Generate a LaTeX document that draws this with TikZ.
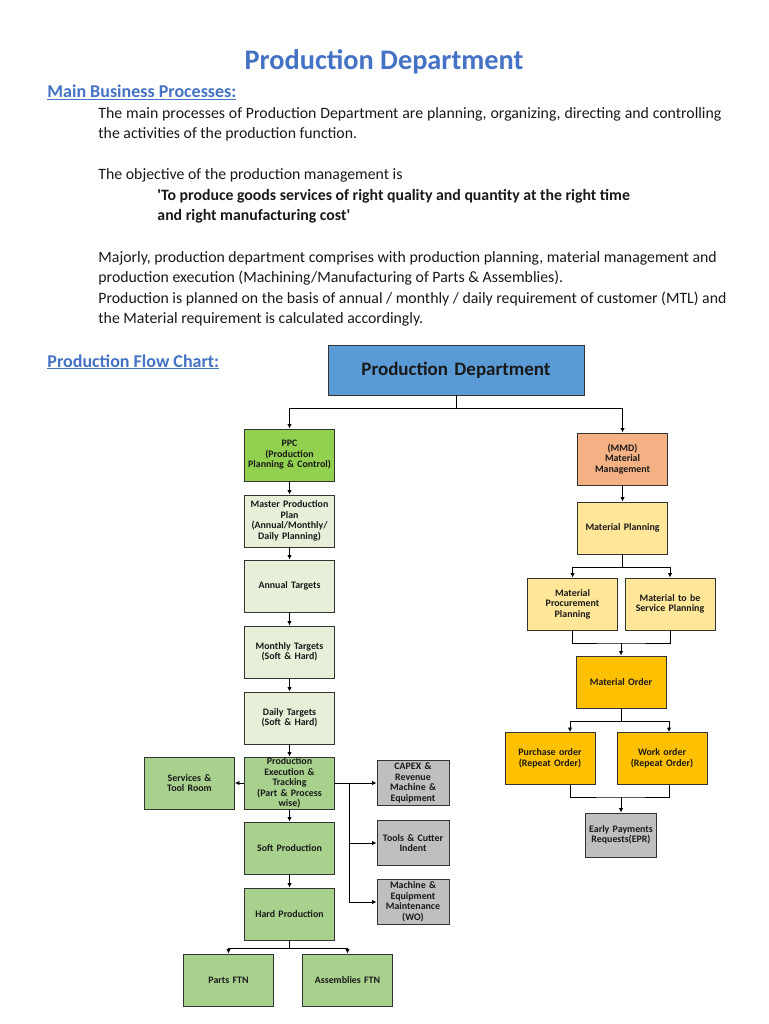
\documentclass[tikz,border=0pt]{standalone}
\usepackage{fontspec}
\setmainfont{Carlito}[Ligatures=TeXOff]
\usetikzlibrary{arrows.meta}
\usetikzlibrary{calc}

\definecolor{hdblue}{HTML}{4472C4}
\definecolor{topblue}{HTML}{5B9BD5}
\definecolor{ppcgreen}{HTML}{92D050}
\definecolor{palegreen}{HTML}{E6F0D9}
\definecolor{midgreen}{HTML}{A9D18E}
\definecolor{mmdorange}{HTML}{F4B183}
\definecolor{paleyellow}{HTML}{FFE699}
\definecolor{gold}{HTML}{FFC000}
\definecolor{boxgray}{HTML}{BFBFBF}

\begin{document}
\begin{tikzpicture}[x=1pt, y=-1pt,
  every path/.style={line width=0.9pt},
  box/.style={draw=black!80, align=center, inner sep=0.5pt, text width=88pt,
    minimum width=90pt, minimum height=52pt, text=black!90,
    font=\bfseries\fontsize{9.9}{10.5}\selectfont},
  graybox/.style={box, fill=boxgray, text width=70pt, minimum width=72pt, minimum height=45pt},
  txt/.style={anchor=base west, inner sep=0pt, text=black!90, font=\fontsize{15.8}{18}\selectfont},
  head/.style={anchor=base west, inner sep=0pt, text=hdblue, font=\bfseries\fontsize{18}{21}\selectfont},
  arr/.style={-{Latex[length=4.5pt,width=4.5pt]}}]
\useasboundingbox[fill=white] (0,0) rectangle (768,1024);

% page text
\node[anchor=base, inner sep=0pt, text=hdblue, font=\bfseries\fontsize{28.3}{32}\selectfont] (title) at (384,70) {Production Department};
\node[head] (mbp) at (47,98) {\underline{Main Business Processes:}};
\node[txt] (l1) at (98,119) {\makebox[623pt][s]{The main processes of Production Department are planning, organizing, directing and controlling}};
\node[txt] (l2) at (98,139) {the activities of the production function.};
\node[txt] (l3) at (98,180) {The objective of the production management is};
\node[txt, font=\bfseries\fontsize{15.8}{18}\selectfont] (q1) at (157,201) {'To produce goods services of right quality and quantity at the right time};
\node[txt, font=\bfseries\fontsize{15.8}{18}\selectfont] (q2) at (157,221) {and right manufacturing cost'};
\node[txt] (l4) at (98,262) {Majorly, production department comprises with production planning, material management and};
\node[txt] (l5) at (98,282) {production execution (Machining/Manufacturing of Parts \& Assemblies).};
\node[txt] (l6) at (98,303) {Production is planned on the basis of annual / monthly / daily requirement of customer (MTL) and};
\node[txt] (l7) at (98,323) {the Material requirement is calculated accordingly.};
\node[head] (pfc) at (47,367) {\underline{Production Flow Chart:}};

% chart
\node[box, fill=topblue, text width=250pt, minimum width=256pt, minimum height=50pt, font=\bfseries\fontsize{19}{22}\selectfont] (pd) at (456,370) {Production Department};

\node[box, fill=ppcgreen] (ppc) at (289.5,455) {PPC\\(Production\\Planning \& Control)};
\node[box, fill=palegreen] (mpp) at (289.5,521) {Master Production\\Plan\\(Annual/Monthly/\\Daily Planning)};
\node[box, fill=palegreen] (ann) at (289.5,586) {Annual Targets};
\node[box, fill=palegreen] (mon) at (289.5,652) {Monthly Targets\\(Soft \& Hard)};
\node[box, fill=palegreen] (day) at (289.5,718) {Daily Targets\\(Soft \& Hard)};
\node[box, fill=midgreen] (pet) at (289.5,783) {Production\\Execution \&\\Tracking\\(Part \& Process\\wise)};
\node[box, fill=midgreen] (svc) at (189.5,783) {Services \&\\Tool Room};
\node[box, fill=midgreen] (soft) at (289.5,848) {Soft Production};
\node[box, fill=midgreen] (hard) at (289.5,914) {Hard Production};
\node[box, fill=midgreen] (parts) at (228.5,980) {Parts FTN};
\node[box, fill=midgreen] (assy) at (347.5,980) {Assemblies FTN};
\node[graybox] (capex) at (413,783) {CAPEX \&\\Revenue\\Machine \&\\Equipment};
\node[graybox] (tools) at (413,843) {Tools \& Cutter\\Indent};
\node[graybox] (maint) at (413,902) {Machine \&\\Equipment\\Maintenance\\(WO)};

\node[box, fill=mmdorange] (mmd) at (622.5,459) {(MMD)\\Material\\Management};
\node[box, fill=paleyellow] (mpl) at (622.5,528) {Material Planning};
\node[box, fill=paleyellow] (proc) at (572.5,604) {Material\\Procurement\\Planning};
\node[box, fill=paleyellow] (serv) at (670,604) {Material to be\\Service Planning};
\node[box, fill=gold] (mord) at (621,682) {Material Order};
\node[box, fill=gold] (po) at (550,758.5) {Purchase order\\(Repeat Order)};
\node[box, fill=gold] (wo) at (662,758.5) {Work order\\(Repeat Order)};
\node[graybox, text width=70pt, minimum width=71pt, minimum height=44pt] (epr) at (621,835) {Early Payments\\Requests(EPR)};

\coordinate (j0) at (456,408);
\coordinate (j1) at (349,783);
\coordinate (j2) at (289.5,948);
\coordinate (j3) at (622.5,567);
\coordinate (j4) at (621,643);
\coordinate (j5) at (621,721);
\coordinate (j6) at (621,797);

\draw (pd) -- (j0);
\draw[arr] (j0) -| (ppc);
\draw[arr] (j0) -| (mmd);
\draw[arr] (ppc) -- (mpp);
\draw[arr] (mpp) -- (ann);
\draw[arr] (ann) -- (mon);
\draw[arr] (mon) -- (day);
\draw[arr] (day) -- (pet);
\draw[arr] (pet) -- (svc);
\draw[arr] (pet) -- (capex);
\draw[arr] (j1) |- (tools);
\draw[arr] (j1) |- (maint);
\draw[arr] (pet) -- (soft);
\draw[arr] (soft) -- (hard);
\draw (hard) -- (j2);
\draw[arr] (j2) -| (parts);
\draw[arr] (j2) -| (assy);

\draw[arr] (mmd) -- (mpl);
\draw (mpl) -- (j3);
\draw[arr] (j3) -| (proc);
\draw[arr] (j3) -| (serv);
\draw (proc) |- (j4) -| (serv);
\draw[arr] (j4) -- (mord);
\draw (mord) -- (j5);
\draw[arr] (j5) -| ([xshift=20pt]po.north);
\draw[arr] (j5) -| ([xshift=7pt]wo.north);
\draw ([xshift=20pt]po.south) |- (j6) -| ([xshift=7pt]wo.south);
\draw[arr] (j6) -- (epr);
\end{tikzpicture}
\end{document}
